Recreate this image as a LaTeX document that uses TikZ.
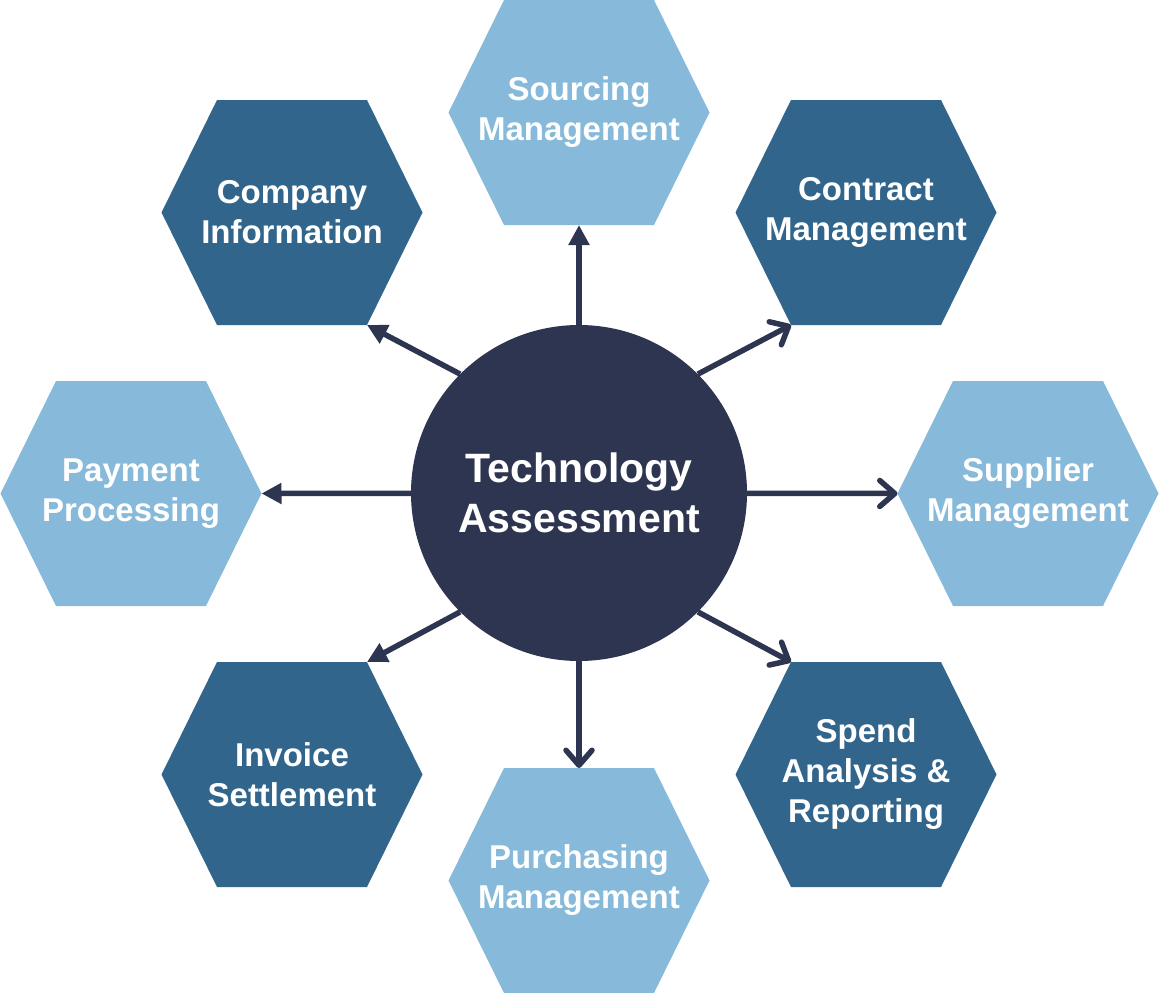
\documentclass[tikz,border=0pt]{standalone}
\usepackage{fontspec}
\setmainfont{Liberation Sans}
\usetikzlibrary{arrows.meta}
\definecolor{hexdark}{HTML}{31658B}
\definecolor{hexlight}{HTML}{87BADA}
\definecolor{navy}{HTML}{2E3550}

\begin{document}
\begin{tikzpicture}[x=1pt,y=-1pt,
        hexlabel/.style={inner sep=0pt,align=center,text=white,font=\bfseries\fontsize{33}{40}\selectfont},
        fullhead/.style={line width=5.5pt,draw=navy,-{Triangle[length=20pt,width=20pt]}},
        openhead/.style={line width=5.5pt,draw=navy,-{Straight Barb[length=15pt,width=26pt,round]}}]
        \useasboundingbox (0,0) rectangle (1162,993);
        % Sechsecke
        \foreach \nm/\x/\y/\col/\txt in {
            sourcing/579/112.5/hexlight/{Sourcing\\Management},
            company/292/212.5/hexdark/{Company\\Information},
            contract/866/212.5/hexdark/{Contract\\Management},
            payment/131/493.5/hexlight/{Payment\\Processing},
            supplier/1028/493.5/hexlight/{Supplier\\Management},
            invoice/292/774.5/hexdark/{Invoice\\Settlement},
            spend/866/774.5/hexdark/{Spend\\Analysis \&\\Reporting},
            purchasing/579/880.5/hexlight/{Purchasing\\Management}}
        {
            \fill[\col] (\x,\y) ++(-130.5,0) -- ++(55.5,-112.5) -- ++(150,0)
                -- ++(55.5,112.5) -- ++(-55.5,112.5) -- ++(-150,0) -- cycle;
            \node[hexlabel] (\nm) at (\x,\y) {\txt};
            \coordinate (\nm-w) at (\x-130.5,\y);
            \coordinate (\nm-e) at (\x+130.5,\y);
            \coordinate (\nm-n) at (\x,\y-112.5);
            \coordinate (\nm-s) at (\x,\y+112.5);
            \coordinate (\nm-nw) at (\x-75,\y-112.5);
            \coordinate (\nm-ne) at (\x+75,\y-112.5);
            \coordinate (\nm-sw) at (\x-75,\y+112.5);
            \coordinate (\nm-se) at (\x+75,\y+112.5);
        }
        % Mitte
        \node[circle,fill=navy,minimum size=336pt,inner sep=0pt,align=center,text=white,
            font=\bfseries\fontsize{41}{50}\selectfont] (tech) at (579,493) {Technology\\Assessment};
        % Pfeile
        \draw[fullhead] (tech) -- (sourcing-s);
        \draw[fullhead] (tech.135) -- (company-se);
        \draw[fullhead] (tech) -- (payment-e);
        \draw[fullhead] (tech.225) -- (invoice-ne);
        \draw[openhead] (tech.45) -- (contract-sw);
        \draw[openhead] (tech) -- (supplier-w);
        \draw[openhead] (tech.-45) -- (spend-nw);
        \draw[openhead] (tech) -- (purchasing-n);
    \end{tikzpicture}
\end{document}
